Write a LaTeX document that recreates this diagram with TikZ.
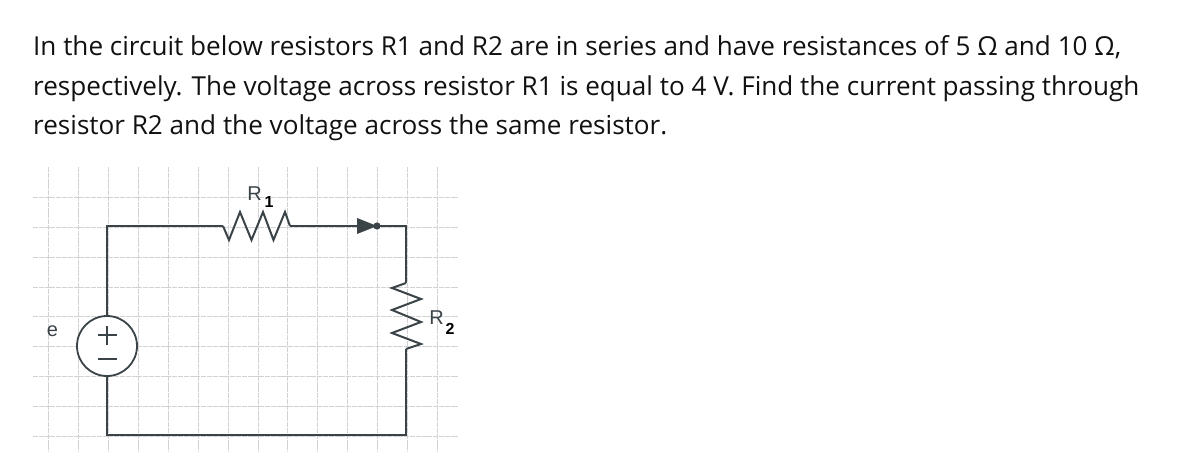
\documentclass[tikz,border=0pt]{standalone}
\usepackage{fontspec}
\setmainfont{Open Sans}
\newfontfamily\lblfont{Liberation Sans}
\definecolor{wirecol}{HTML}{3A4448}
\definecolor{gridcol}{HTML}{D2D2D2}
\definecolor{txtcol}{HTML}{111111}
\tikzset{
  wire/.style={draw=wirecol,line width=2pt,line join=miter},
  gridline/.style={draw=gridcol,line width=1pt,dash pattern=on 5pt off 0.8pt},
  para/.style={anchor=base west,inner sep=0,text=txtcol,font=\fontsize{26.1}{30}\selectfont},
  lbl/.style={inner sep=0,text=wirecol,font=\lblfont\fontsize{20}{22}\selectfont},
  sub/.style={inner sep=0,text=black,font=\lblfont\bfseries\fontsize{16}{18}\selectfont},
  srcbox/.style={circle,draw=wirecol,line width=1.8pt,minimum size=60pt,inner sep=0,fill=white},
  pmsign/.style={draw=wirecol,line width=1.2pt}
}
\begin{document}
\begin{tikzpicture}[x=1pt,y=-1pt]
\useasboundingbox (0,0) rectangle (1201,476);
\fill[white] (0,0) rectangle (1201,476);
% grid
\foreach \gx in {48,78,108,138,168,198,228,258,287,317,347,377,407,437}
  \draw[gridline] (\gx,167) -- (\gx,452);
\foreach \gy in {197,227,257,287,316,346,376,406,436}
  \draw[gridline] (33,\gy) -- (458,\gy);
% text
\node[para] (l1) at (33,56) {In the circuit below resistors R1 and R2 are in series and have resistances of 5 Ω and 10 Ω,};
\node[para] (l2) at (33,96) {respectively. The voltage across resistor R1 is equal to 4 V. Find the current passing through};
\node[para] (l3) at (33,135) {resistor R2 and the voltage across the same resistor.};
% corners and terminals
\coordinate (tl) at (107,226);
\coordinate (tr) at (406,226);
\coordinate (bl) at (107,435);
\coordinate (br) at (406,435);
\coordinate (r1a) at (223,226);
\coordinate (r1b) at (290,226);
\coordinate (r2a) at (406,283);
\coordinate (r2b) at (406,349);
\coordinate (dot) at (377,226);
\node[srcbox] (src) at (107,346) {};
% wires
\draw[wire] (src.north) -- (tl) -- (r1a);
\draw[wire] (r1a) -- (229,240) -- (240,212) -- (251.5,240) -- (263,212) -- (273.5,240) -- (285,212) -- (r1b);
\draw[wire] (r1b) -- (dot) -- (tr) -- (r2a);
\draw[wire] (r2a) -- (392,288) -- (421,299) -- (392,310) -- (421,322) -- (392,333) -- (421,344) -- (r2b);
\draw[wire] (r2b) -- (br) -- (bl) -- (src.south);
% current marker
\fill[wirecol] (357,218) -- (377,226) -- (357,234) -- cycle;
\fill[wirecol] (dot) circle (3.6);
% source signs
\draw[pmsign] (98,335) -- (117,335) (107,326) -- (107,345);
\draw[pmsign] (98,359) -- (117,359);
% labels
\node[lbl] (r1l) at (254.5,194) {R};
\node[sub] (r1s) at (269,202) {1};
\node[lbl] (r2l) at (436.5,318) {R};
\node[sub] (r2s) at (450,329) {2};
\node[lbl] (el) at (52.5,331) {e};
\end{tikzpicture}
\end{document}
